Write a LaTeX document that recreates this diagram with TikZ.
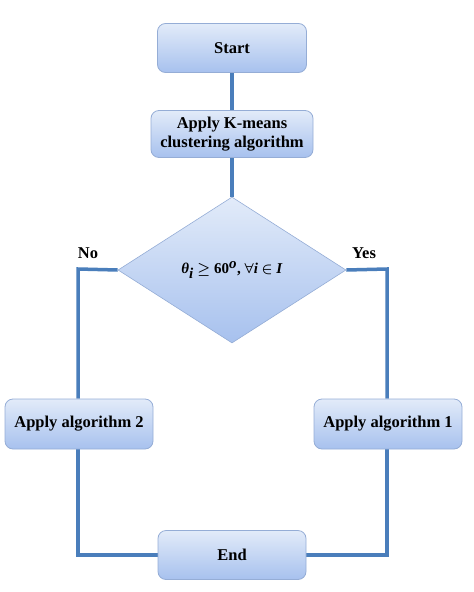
\documentclass[tikz,border=0pt]{standalone}
\usepackage{fontspec}
\setmainfont{Liberation Serif}
\usetikzlibrary{shapes.geometric,backgrounds}
\definecolor{boxtop}{HTML}{E2EBF9}
\definecolor{boxbot}{HTML}{A7C1EE}
\definecolor{boxline}{HTML}{95ADD6}
\definecolor{conn}{HTML}{4A7EBB}
\tikzset{
  boxnode/.style={draw=boxline, line width=0.8pt, rounded corners=8pt,
    top color=boxtop, bottom color=boxbot, align=center,
    font=\fontsize{16.5}{19}\selectfont\bfseries, inner sep=0pt},
  decnode/.style={diamond, draw=boxline, line width=0.6pt, top color=boxtop, bottom color=boxbot,
    inner sep=0pt, font=\fontsize{15}{17}\selectfont\bfseries},
  conline/.style={draw=conn, line width=3.5pt},
  lbl/.style={font=\fontsize{16.5}{19}\selectfont\bfseries}
}
\begin{document}
\begin{tikzpicture}[x=1pt,y=-1pt]
\useasboundingbox (0,0) rectangle (474,592);
\coordinate (lc) at (78,269);
\coordinate (rc) at (387,269);
\coordinate (lb) at (78,555);
\coordinate (rb) at (387,555);
\node[boxnode, minimum width=149pt, minimum height=49pt] (start) at (232,48) {Start};
\node[boxnode, minimum width=162pt, minimum height=47pt] (kmeans) at (232,134) {Apply K-means\\clustering algorithm};
\node[decnode, minimum width=228pt, minimum height=146pt] (dec) at (232,270) {\textit{θ}$_{\textbf{\textit{i}}}$ {\boldmath$\geq$} 60$^{\textbf{\textit{o}}}$, {\boldmath$\forall$}\textit{i} {\boldmath$\in$} \textit{I}};
\node[boxnode, minimum width=148pt, minimum height=50pt] (alg2) at (79,424) {Apply algorithm 2};
\node[boxnode, minimum width=148pt, minimum height=50pt] (alg1) at (388,424) {Apply algorithm 1};
\node[boxnode, minimum width=148pt, minimum height=49pt] (end) at (232,555) {End};
\node[lbl] (no) at (88,253) {No};
\node[lbl] (yes) at (364,253) {Yes};
\begin{scope}[on background layer]
\draw[conline] (start.south) -- (kmeans.north);
\draw[conline] (kmeans.south) -- (dec.north);
\draw[conline] (dec.west) -- (lc) -- (alg2.north -| lc);
\draw[conline] (dec.east) -- (rc) -- (alg1.north -| rc);
\draw[conline] (alg2.south -| lb) -- (lb) -- (end.west);
\draw[conline] (alg1.south -| rb) -- (rb) -- (end.east);
\end{scope}
\end{tikzpicture}
\end{document}
